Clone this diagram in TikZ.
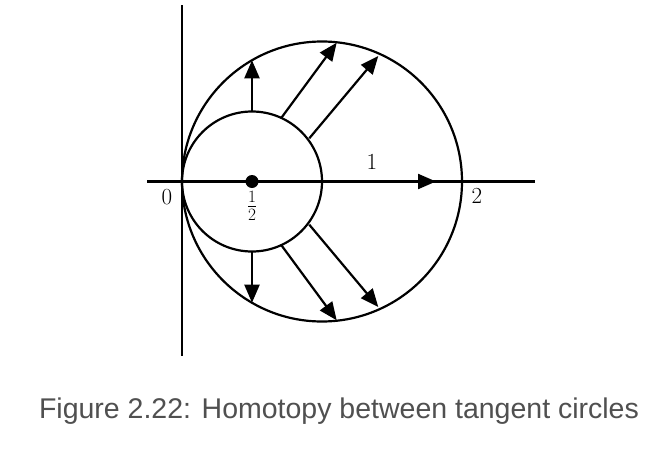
\documentclass[tikz,border=0pt]{standalone}
\usepackage{fontspec}
\newfontfamily\capfont{Liberation Sans}
\usetikzlibrary{arrows.meta}
\definecolor{capgray}{RGB}{80,80,80}
\tikzset{
  curve/.style={line width=2.2pt, black},
  homarrow/.style={line width=2.2pt, -{Triangle[length=18pt,width=15pt]}},
  numlabel/.style={font=\fontsize{23}{26}\selectfont, inner sep=0pt},
}
\begin{document}
\begin{tikzpicture}[x=1pt,y=-1pt]
\useasboundingbox (0,0) rectangle (659,453);
\fill[white] (0,0) rectangle (659,453);
% axes
\coordinate (xl) at (147,181.5);
\coordinate (xr) at (535,181.5);
\coordinate (yt) at (182,5);
\coordinate (yb) at (182,356);
\draw[curve] (xl) -- (xr);
\draw[curve] (yt) -- (yb);
% circles
\coordinate (c1) at (252,181.5);
\coordinate (c2) at (322,181.5);
\draw[curve] (c1) circle[radius=70pt];
\draw[curve] (c2) circle[radius=140pt];
\fill (c1) circle[radius=6.5pt];
% arrows upper
\coordinate (a1) at (252,111.5);   \coordinate (b1) at (252,60.3);
\coordinate (a2) at (281,118.3);   \coordinate (b2) at (336.7,42.7);
\coordinate (a3) at (309.3,138.3); \coordinate (b3) at (378.3,56);
% arrows lower
\coordinate (a4) at (252,251.5);   \coordinate (b4) at (252,302.7);
\coordinate (a5) at (281,244.7);   \coordinate (b5) at (336.7,320.3);
\coordinate (a6) at (309.3,224.7); \coordinate (b6) at (378.3,307);
% horizontal
\coordinate (a7) at (322,181.5);   \coordinate (b7) at (436,181.5);
\foreach \i in {1,...,7} {\draw[homarrow] (a\i) -- (b\i);}
% labels
\node[numlabel] (l0) at (167,197.5) {0};
\node[numlabel] (l1) at (372,162) {1};
\node[numlabel] (l2) at (477,196) {2};
\node[inner sep=0pt, font=\fontsize{24}{28}\selectfont] (lh) at (252,206) {$\frac{1}{2}$};
% caption
\node[anchor=base, inner sep=0pt, text=capgray, font=\capfont\fontsize{28.5}{32}\selectfont] (cap) at (339,418) {Figure 2.22: Homotopy between tangent circles};
\end{tikzpicture}
\end{document}
